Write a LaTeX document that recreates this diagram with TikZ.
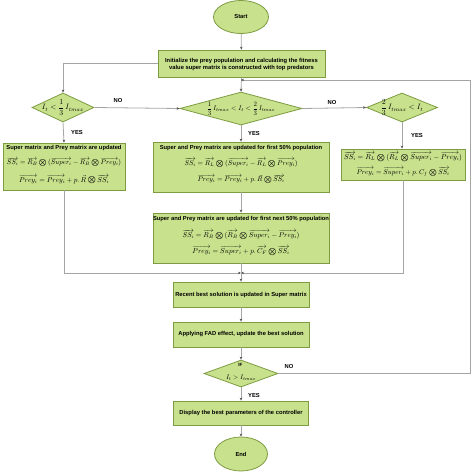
\RequirePackage{fix-cm}
\documentclass[tikz,border=0pt]{standalone}
\usepackage{amsmath}
\usepackage{graphicx}
\usepackage[no-math]{fontspec}
\newfontfamily\lab{Liberation Sans}
\usetikzlibrary{shapes.geometric,arrows.meta}
\definecolor{boxfill}{RGB}{200,225,140}
\definecolor{boxline}{RGB}{125,155,65}
\definecolor{lineg}{RGB}{165,165,165}
\definecolor{tipc}{RGB}{80,80,80}
\newcommand{\va}[1]{\overrightarrow{#1}}
\newcommand{\ot}{\mathbin{\textstyle\bigotimes}}
\newcommand{\fitw}[2]{\resizebox{#1}{!}{$#2$}}
\tikzset{
  proc/.style={rectangle, draw=boxline, fill=boxfill, line width=0.8pt, inner sep=0pt},
  term/.style={ellipse, draw=boxline, fill=boxfill, line width=0.8pt, inner sep=0pt},
  dec/.style={diamond, draw=boxline, fill=boxfill, line width=0.8pt, inner sep=0pt},
  txt/.style={font=\lab\bfseries\fontsize{5.8}{7.6}\selectfont, inner sep=0pt, align=center},
  eqn/.style={font=\fontsize{10}{12}\selectfont, inner sep=0pt}
}
\tikzset{
  flow/.style={draw=lineg, line width=0.8pt, -{Stealth[length=3pt,width=2.6pt,color=tipc]}},
  plain/.style={draw=lineg, line width=0.8pt}
}
\begin{document}
\begin{tikzpicture}[x=1pt,y=-1pt]
\useasboundingbox (0,0) rectangle (474,472);
% terminals
\node[term, minimum width=55pt, minimum height=33pt] (start) at (241,17) {};
\node[txt] (startt) at (241,17) {Start};
\node[term, minimum width=53pt, minimum height=34pt] (end) at (241,454) {};
\node[txt] (endt) at (241,454) {End};
% init
\node[proc, minimum width=167pt, minimum height=27pt] (init) at (241.5,63.5) {};
\node[txt] (initt) at (241.5,64.5) {Initialize the prey population and calculating the fitness\\value super matrix is constructed with top predators};
% diamonds
\node[dec, minimum width=62pt, minimum height=29pt] (d1) at (63,107.5) {};
\node[eqn] (d1t) at (63,107.5) {\fitw{42pt}{I_t < \dfrac{1}{3}\, I_{tmax}}};
\node[dec, minimum width=122pt, minimum height=33pt] (d2) at (241,108.5) {};
\node[eqn] (d2t) at (241,108.5) {\fitw{68pt}{\dfrac{1}{3}\, I_{tmax} < I_t < \dfrac{2}{3}\, I_{tmax}}};
\node[dec, minimum width=71pt, minimum height=29pt] (d3) at (402,107.5) {};
\node[eqn] (d3t) at (402,107.5) {\fitw{42pt}{\dfrac{2}{3}\, I_{tmax} < I_t}};
% box1
\node[proc, minimum width=122pt, minimum height=47pt] (b1) at (64,166.5) {};
\node[txt] (b1t) at (64,148) {Super matrix and Prey matrix are updated};
\node[eqn] (b1e1) at (64,162) {\fitw{114pt}{\va{SS_i} = \va{R_B}\ot(\va{Super_i} - \va{R_B}\ot\va{Prey_i})}};
\node[eqn] (b1e2) at (64,179.5) {\fitw{90pt}{\va{Prey_i} = \va{Prey_i} + p.\,\vec{R}\ot\va{SS_i}}};
% box2
\node[proc, minimum width=176pt, minimum height=50pt] (b2) at (241,167) {};
\node[txt] (b2t) at (241,148) {Super and Prey matrix are updated for first 50\% population};
\node[eqn] (b2e1) at (241,162.5) {\fitw{113pt}{\va{SS_i} = \va{R_L}\ot(\va{Super_i} - \va{R_L}\ot\va{Prey_i})}};
\node[eqn] (b2e2) at (241,179) {\fitw{87pt}{\va{Prey_i} = \va{Prey_i} + p.\,\vec{R}\ot\va{SS_i}}};
% box3
\node[proc, minimum width=124pt, minimum height=31pt] (b3) at (403,164.5) {};
\node[eqn] (b3e1) at (403,157) {\fitw{118pt}{\va{SS_i} = \va{R_L}\ot(\va{R_L}\ot\va{Super_i} - \va{Prey_i})}};
\node[eqn] (b3e2) at (403,172) {\fitw{93pt}{\va{Prey_i} = \va{Super_i} + p.\,C_f\ot\va{SS_i}}};
% box4
\node[proc, minimum width=176pt, minimum height=50pt] (b4) at (241,238) {};
\node[txt] (b4t) at (241,219) {Super and Prey matrix are updated for first next 50\% population};
\node[eqn] (b4e1) at (241,234.5) {\fitw{117pt}{\va{SS_i} = \va{R_B}\ot(\va{R_B}\ot\va{Super_i} - \va{Prey_i})}};
\node[eqn] (b4e2) at (241,251) {\fitw{97pt}{\va{Prey_i} = \va{Super_i} + p.\,\va{C_F}\ot\va{SS_i}}};
% lower boxes
\node[proc, minimum width=136pt, minimum height=25pt] (b5) at (241,294.5) {};
\node[txt] (b5t) at (241,294.5) {Recent best solution is updated in Super matrix};
\node[proc, minimum width=136pt, minimum height=25pt] (b6) at (241,334.5) {};
\node[txt] (b6t) at (241,334.5) {Applying FAD effect, update the best solution};
\node[dec, minimum width=74pt, minimum height=27pt] (ifd) at (241,373.5) {};
\node[txt, font=\lab\bfseries\fontsize{4.6}{5.5}\selectfont] (ift) at (240.5,364.5) {IF};
\node[eqn] (ifc) at (241,378) {\fitw{30pt}{I_t > I_{tmax}}};
\node[proc, minimum width=135pt, minimum height=24pt] (b7) at (241,413) {};
\node[txt] (b7t) at (241,413) {Display the best parameters of the controller};
% coordinates
\coordinate (lft) at (63,63.5);
\coordinate (fbA) at (470,373.5);
\coordinate (fbB) at (470,80);
\coordinate (fbC) at (241,80);
\coordinate (mrg) at (241,273);
% connectors
\draw[flow] (start) -- (init);
\draw[flow] (init.west) -- (lft) -- (d1.north);
\draw[flow] (init.south) -- (d2.north);
\draw[flow] (ifd.east) -- (fbA) -- (fbB) -- (fbC);
\draw[flow] (d1.east) -- (d2.west);
\draw[flow] (d2.east) -- (d3.west);
\draw[flow] (d1.south) -- (b1.north);
\draw[flow] (d2.south) -- (b2.north);
\draw[flow] (d3.south) -- (d3.south |- b3.north);
\draw[flow] (b2.south) -- (b4.north);
\draw[flow] (b1.south) |- (mrg);
\draw[flow] (b3.south) |- (mrg);
\draw[plain] (b4.south) -- (mrg);
\draw[flow] (mrg) -- (b5.north);
\draw[flow] (b5) -- (b6);
\draw[flow] (b6) -- (ifd);
\draw[flow] (ifd) -- (b7);
\draw[flow] (b7) -- (end);
% labels
\node[txt] (no1) at (118,100) {NO};
\node[txt] (no2) at (332,102) {NO};
\node[txt] (no3) at (289,366) {NO};
\node[txt] (yes1) at (77,132) {YES};
\node[txt] (yes2) at (254,133) {YES};
\node[txt] (yes3) at (417,135) {YES};
\node[txt] (yes4) at (254,395) {YES};
\end{tikzpicture}
\end{document}
